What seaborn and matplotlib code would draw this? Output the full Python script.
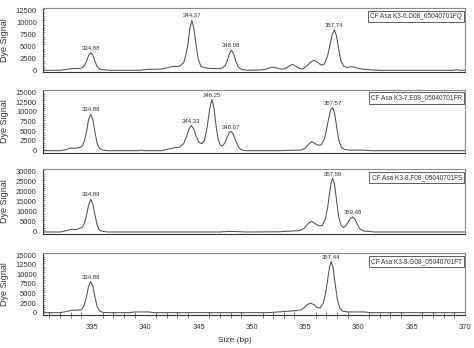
import matplotlib
matplotlib.use("Agg")
import matplotlib.pyplot as plt
import seaborn as sns
import pandas as pd
from matplotlib.ticker import MultipleLocator, AutoMinorLocator

# ---- data (size in bp, dye signal) ----
trace_fq = [(330.4, 0), (332.0, 0), (332.5, 150), (333.0, 350), (333.8, 400), (334.1, 550),
            (334.3, 1050), (334.5, 2000), (334.7, 3200), (334.88, 3750), (335.08, 3150),
            (335.28, 1850), (335.48, 800), (335.7, 300), (336.0, 150), (336.4, 50), (336.8, 0),
            (339.5, 0), (340.2, 200), (341.5, 250), (342.2, 600), (342.6, 800), (343.2, 850),
            (343.6, 1600), (343.8, 3200), (344.0, 5500), (344.17, 8700), (344.37, 10550),
            (344.57, 8700), (344.77, 5200), (344.97, 2400), (345.2, 900), (345.5, 550),
            (346.0, 400), (346.8, 350), (347.2, 450), (347.5, 1000), (347.7, 2100), (347.9, 3500),
            (348.08, 4250), (348.28, 3500), (348.48, 2000), (348.7, 800), (349.0, 200),
            (349.5, 0), (350.5, 50), (351.2, 150), (351.6, 450), (351.9, 650), (352.3, 500),
            (352.8, 250), (353.1, 350), (353.5, 900), (353.8, 1250), (354.1, 900), (354.5, 350),
            (354.8, 300), (355.2, 1000), (355.5, 1700), (355.8, 2100), (356.1, 1800),
            (356.5, 1100), (356.8, 1300), (357.1, 3000), (357.3, 5100), (357.54, 7500),
            (357.74, 8500), (357.94, 7300), (358.14, 4500), (358.34, 2100), (358.6, 900),
            (358.9, 600), (359.3, 750), (359.6, 700), (360.0, 400), (360.5, 200), (361.5, 50),
            (362.0, 0), (368.9, 0), (369.2, 120), (369.5, 0), (370.0, 0)]

trace_fr = [(330.4, 0), (332.0, 0), (332.6, 300), (333.0, 700), (333.4, 600), (333.9, 900),
            (334.1, 1200), (334.3, 2600), (334.5, 5200), (334.68, 8000), (334.88, 9400),
            (335.08, 7900), (335.28, 4700), (335.48, 1900), (335.7, 600), (336.0, 150),
            (336.5, 0), (339.3, 0), (339.6, 150), (340.0, 0), (341.5, 0), (342.0, 300),
            (342.6, 700), (343.2, 900), (343.6, 1800), (343.9, 3800), (344.1, 5600),
            (344.33, 6500), (344.55, 5500), (344.8, 3500), (345.05, 2200), (345.3, 1800),
            (345.55, 2600), (345.8, 6000), (346.05, 10800), (346.25, 13200), (346.45, 10800),
            (346.65, 6200), (346.85, 2800), (347.05, 1400), (347.25, 1200), (347.5, 2200),
            (347.7, 3600), (347.9, 4700), (348.07, 4950), (348.27, 4100), (348.5, 2400),
            (348.75, 900), (349.0, 250), (349.4, 0), (352.5, 0), (353.5, 100), (354.6, 150),
            (355.0, 600), (355.3, 1600), (355.6, 2300), (355.9, 1900), (356.2, 1400),
            (356.5, 1500), (356.8, 3000), (357.0, 5300), (357.2, 8200), (357.4, 10500),
            (357.57, 11100), (357.77, 9500), (357.97, 5800), (358.17, 2600), (358.4, 900),
            (358.7, 300), (359.2, 150), (360.5, 150), (361.2, 0), (370.0, 0)]

trace_fs = [(330.4, 0), (332.0, 0), (332.6, 700), (333.0, 1300), (333.5, 1200), (333.9, 1900),
            (334.1, 2400), (334.3, 4500), (334.5, 8800), (334.7, 13800), (334.89, 16300),
            (335.09, 13600), (335.29, 8000), (335.49, 3300), (335.7, 1000), (336.0, 300),
            (336.5, 0), (347.0, 0), (347.8, 300), (348.6, 200), (349.5, 0), (352.5, 100),
            (353.5, 400), (354.5, 700), (354.9, 1800), (355.3, 4300), (355.6, 5300),
            (355.9, 4300), (356.3, 3000), (356.6, 3200), (356.9, 6500), (357.1, 12000),
            (357.3, 19500), (357.45, 24700), (357.59, 26700), (357.75, 24000), (357.95, 15500),
            (358.15, 7500), (358.35, 3500), (358.6, 2200), (358.85, 3200), (359.1, 5500),
            (359.3, 7000), (359.48, 7500), (359.68, 6300), (359.9, 3800), (360.15, 1500),
            (360.5, 500), (361.0, 250), (361.5, 0), (370.0, 0)]

trace_ft = [(330.4, 0), (332.0, 0), (332.6, 300), (333.0, 600), (333.5, 650), (333.9, 700),
            (334.1, 1000), (334.3, 2200), (334.5, 4400), (334.68, 6900), (334.88, 8100),
            (335.08, 6800), (335.28, 4000), (335.48, 1600), (335.7, 500), (336.0, 100),
            (336.5, 0), (338.5, 0), (339.0, 200), (340.3, 200), (340.8, 0), (351.5, 0),
            (352.5, 200), (354.0, 500), (354.6, 700), (354.9, 1300), (355.2, 2100),
            (355.5, 2500), (355.8, 2100), (356.1, 1400), (356.4, 1200), (356.7, 2500),
            (356.9, 4800), (357.1, 8300), (357.28, 11800), (357.44, 13300), (357.62, 11700),
            (357.82, 7400), (358.02, 3500), (358.25, 1200), (358.5, 400), (359.0, 200),
            (360.5, 200), (361.2, 0), (370.0, 0)]

sample_names = ["CF Asa K3-6.D08_05040701FQ", "CF Asa K3-7.E08_05040701FR",
                "CF Asa K3-8.F08_05040701FS", "CF Asa K3-9.G08_05040701FT"]

peak_labels_fq = [(334.88, 3750, "334,88"), (344.37, 10550, "344,37"),
                  (348.08, 4250, "348,08"), (357.74, 8500, "357,74")]
peak_labels_fr = [(334.88, 9400, "334,88"), (344.33, 6500, "344,33"), (346.25, 13200, "346,25"),
                  (348.07, 4950, "348,07"), (357.57, 11100, "357,57")]
peak_labels_fs = [(334.89, 16300, "334,89"), (357.59, 26700, "357,59"), (359.48, 7500, "359,48")]
peak_labels_ft = [(334.88, 8100, "334,88"), (357.44, 13300, "357,44")]

y_steps = [2500, 2500, 5000, 2500]
y_maxtick = [12500, 15000, 30000, 15000]
y_limits = [(-360, 13130), (-590, 15670), (-750, 31340), (-470, 15520)]
x_ticks = [335, 340, 345, 350, 355, 360, 365, 370]
x_range = (330.4, 370.0)

# ---- drawing ----
sns.set_style("white")
plt.rcParams["font.family"] = ["Liberation Sans", "DejaVu Sans"]

fig = plt.figure(figsize=(4.74, 3.48), dpi=100)
W, H = 474.0, 348.0
left_px, right_px = 43.0, 465.0
panels_px = [(8.0, 72.0), (89.7, 153.0), (169.0, 233.5), (253.0, 314.5)]

traces = [trace_fq, trace_fr, trace_fs, trace_ft]
labels = [peak_labels_fq, peak_labels_fr, peak_labels_fs, peak_labels_ft]
txt_col = "#333333"

for i in range(4):
    top, bot = panels_px[i]
    ax = fig.add_axes([left_px / W, 1 - bot / H, (right_px - left_px) / W, (bot - top) / H])
    df = pd.DataFrame(traces[i], columns=["size", "signal"])
    sns.lineplot(data=df, x="size", y="signal", ax=ax, color="#505050", linewidth=0.75,
                 estimator=None, sort=False)
    ax.set_xlim(*x_range)
    ax.set_ylim(*y_limits[i])
    ax.set_yticks(list(range(0, y_maxtick[i] + 1, y_steps[i])))
    ax.yaxis.set_minor_locator(AutoMinorLocator(5))
    ax.tick_params(axis="y", which="major", direction="out", length=3, width=0.6,
                   labelsize=5.5, pad=1.5, colors=txt_col)
    ax.tick_params(axis="y", which="minor", direction="in", length=1.5, width=0.4,
                   left=True, colors="#555555")
    ax.set_ylabel("Dye Signal", fontsize=6.5, color=txt_col)
    ax.yaxis.set_label_coords((9 - left_px) / (right_px - left_px), 0.5)
    for side in ["top", "right"]:
        ax.spines[side].set_color("#8a8a8a")
        ax.spines[side].set_linewidth(0.8)
    for side in ["left", "bottom"]:
        ax.spines[side].set_color("#333333")
        ax.spines[side].set_linewidth(0.8)
    if i < 3:
        ax.set_xticks([])
        ax.set_xlabel("")
    else:
        ax.set_xticks(x_ticks)
        ax.xaxis.set_minor_locator(MultipleLocator(1))
        ax.tick_params(axis="x", which="major", direction="inout", length=6, width=0.6,
                       labelsize=5.5, pad=4, colors=txt_col)
        ax.tick_params(axis="x", which="minor", direction="inout", length=4, width=0.5,
                       bottom=True, colors="#444444")
        ax.set_xlabel("")
    for (px, py, txt) in labels[i]:
        ax.annotate(txt, xy=(px, py), xytext=(0, 1.8), textcoords="offset points",
                    ha="center", va="bottom", fontsize=4.3, color=txt_col)
    ax.text(0.993, 0.92, sample_names[i], transform=ax.transAxes, ha="right", va="top",
            fontsize=4.7, color=txt_col,
            bbox=dict(boxstyle="square,pad=0.35", facecolor="white", edgecolor="#444444",
                      linewidth=0.6))

fig.text(235 / W, 1 - 340.7 / H, "Size (bp)", ha="center", va="center", fontsize=6,
         color=txt_col)

fig.savefig("out.png", dpi=100)
